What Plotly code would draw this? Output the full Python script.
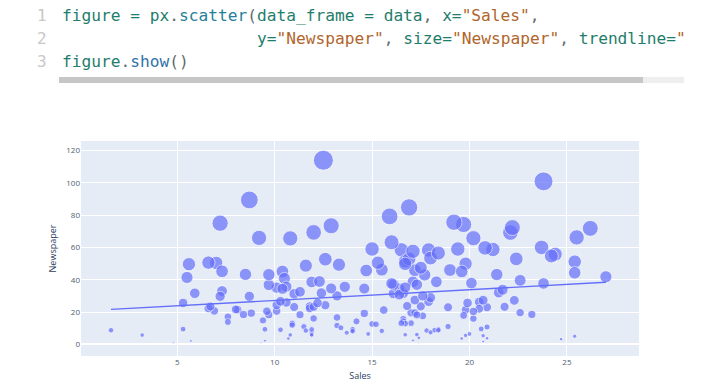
import numpy as np
import plotly.graph_objects as go

# Advertising data (Sales, Newspaper)
sales = [22.1, 10.4, 12, 16.5, 17.9, 7.2, 11.8, 13.2, 4.8, 15.6,
         12.6, 17.4, 9.2, 13.7, 19, 22.4, 12.5, 24.4, 11.3, 14.6,
         18, 17.5, 5.6, 20.5, 9.7, 17, 15, 20.9, 18.9, 10.5,
         21.4, 11.9, 13.2, 17.4, 11.9, 17.8, 25.4, 14.7, 10.1, 21.5,
         16.6, 17.1, 20.7, 17.9, 8.5, 16.1, 10.6, 23.2, 19.8, 9.7,
         16.4, 10.7, 22.6, 21.2, 20.2, 23.7, 5.5, 13.2, 23.8, 18.4,
         8.1, 24.2, 20.7, 14, 18, 9.3, 9.5, 13.4, 18.9, 22.3,
         18.3, 12.4, 8.8, 11, 17, 8.7, 6.9, 14.2, 5.3, 11,
         11.8, 17.3, 11.3, 13.6, 21.7, 20.2, 12, 16, 12.9, 16.7,
         14, 7.3, 19.4, 22.2, 11.5, 16.9, 16.7, 20.5, 25.4, 17.2,
         16.7, 23.8, 19.8, 19.7, 20.7, 15, 7.2, 12, 5.3, 19.8,
         18.4, 21.8, 17.1, 20.9, 14.6, 12.6, 12.2, 9.4, 15.9, 6.6,
         15.5, 7, 16.6, 15.2, 19.7, 10.6, 6.6, 11.9, 24.7, 9.7,
         1.6, 17.7, 5.7, 19.6, 10.8, 11.6, 9.5, 20.8, 9.6, 20.7,
         10.9, 19.2, 20.1, 10.4, 12.3, 10.3, 18.2, 25.4, 10.9, 10.1,
         16.1, 11.6, 16.6, 16, 20.6, 3.2, 15.3, 10.1, 7.3, 12.9,
         16.4, 13.3, 19.9, 18, 11.9, 16.9, 8, 17.2, 17.1, 20,
         8.4, 17.5, 7.6, 16.7, 16.5, 27, 20.2, 16.7, 16.8, 17.6,
         15.5, 17.2, 8.7, 26.2, 17.6, 22.6, 10.3, 17.3, 20.9, 6.7,
         10.8, 11.9, 5.9, 19.6, 17.3, 7.6, 14, 14.8, 25.5, 18.4]

newspaper = [69.2, 45.1, 69.3, 58.5, 58.4, 75, 23.5, 11.6, 1, 21.2,
             24.2, 4, 65.9, 7.2, 46, 52.9, 114, 55.8, 18.3, 19.1,
             53.4, 23.5, 49.6, 26.2, 18.3, 19.5, 12.6, 22.9, 22.9, 40.8,
             43.2, 38.6, 30, 0.3, 7.4, 8.5, 5, 45.7, 35.1, 32,
             31.6, 38.7, 1.8, 26.4, 43.3, 31.5, 35.7, 18.5, 49.9, 36.8,
             34.6, 3.6, 39.6, 58.7, 15.9, 60, 41.4, 16.6, 37.7, 9.3,
             21.4, 54.7, 27.3, 8.4, 28.9, 0.9, 2.2, 10.2, 11, 27.2,
             38.7, 31.7, 19.3, 31.3, 13.1, 89.4, 20.7, 14.2, 9.4, 23.1,
             22.3, 36.9, 32.5, 35.6, 33.8, 65.7, 16, 63.2, 73.4, 51.4,
             9.3, 33, 59, 72.3, 10.9, 52.9, 5.9, 22, 51.2, 45.9,
             49.8, 100.9, 21.4, 17.9, 5.3, 59, 29.7, 23.2, 25.6, 5.5,
             56.5, 23.2, 2.4, 10.7, 34.5, 52.7, 25.6, 14.8, 79.2, 22.3,
             46.2, 50.4, 15.6, 12.4, 74.2, 25.9, 50.6, 9.2, 3.2, 43.1,
             8.7, 43, 2.1, 45.1, 65.6, 8.5, 9.3, 59.7, 20.5, 1.7,
             12.9, 75.6, 37.9, 34.4, 38.9, 9, 8.7, 44.3, 11.9, 20.6,
             37, 48.7, 14.2, 37.7, 9.5, 5.7, 50.5, 24.3, 45.2, 34.6,
             30.7, 49.3, 25.6, 7.4, 5.4, 84.8, 21.6, 19.4, 57.6, 6.4,
             18.4, 47.4, 17, 12.8, 13.1, 41.8, 20.3, 35.2, 23.7, 17.6,
             8.3, 27.4, 29.7, 71.8, 30, 19.6, 26.6, 18.2, 3.7, 23.4,
             5.8, 6, 31.6, 3.6, 6, 13.8, 8.1, 6.4, 66.2, 8.7]

x_ticks = [5, 10, 15, 20, 25]
y_ticks = [0, 20, 40, 60, 80, 100, 120]

# code listing shown above the chart
TEAL = "#1f7d6c"
BLUE = "#2f72aa"
BROWN = "#b0652c"
GRAY = "#5f6b6b"
code_lines = [
    ("1", 60, f'<span style="color:{TEAL}">figure = px</span><span style="color:{GRAY}">.</span>'
          f'<span style="color:#25809a">scatter</span><span style="color:{GRAY}">(</span>'
          f'<span style="color:{TEAL}">data_frame = data</span><span style="color:{GRAY}">,</span> '
          f'<span style="color:{TEAL}">x=</span><span style="color:{BROWN}">"Sales"</span>'
          f'<span style="color:{GRAY}">,</span>'),
    ("2", 255, f'<span style="color:{TEAL}">y=</span><span style="color:{BROWN}">"Newspaper"</span>'
           f'<span style="color:{GRAY}">,</span> <span style="color:{TEAL}">size=</span>'
           f'<span style="color:{BROWN}">"Newspaper"</span><span style="color:{GRAY}">,</span> '
           f'<span style="color:{TEAL}">trendline=</span><span style="color:{BROWN}">"</span>'),
    ("3", 60, f'<span style="color:{TEAL}">figure</span><span style="color:{GRAY}">.</span>'
          f'<span style="color:{BLUE}">show</span><span style="color:{GRAY}">()</span>'),
]
line_y = [15.5, 38.5, 61.5]

W, H = 720, 385
L, R, T, B = 81, 81, 141, 29
pw, ph = W - L - R, H - T - B


def px2paper(px, py):
    return (px - L) / pw, (H - B - py) / ph


sx = np.array(sales, dtype=float)
ny = np.array(newspaper, dtype=float)
slope, intercept = np.polyfit(sx, ny, 1)
xs = np.sort(sx)
trend = slope * xs + intercept

fig = go.Figure()
fig.add_trace(go.Scatter(
    x=sales, y=newspaper, mode="markers",
    marker=dict(color="#636efa", size=newspaper, sizemode="area",
                sizeref=2.0 * max(newspaper) / (20 ** 2), sizemin=0.5,
                opacity=0.7, line=dict(color="white", width=0.8)),
    showlegend=False,
))
fig.add_trace(go.Scatter(
    x=xs, y=trend, mode="lines",
    line=dict(color="#636efa", width=1.3),
    showlegend=False,
))

annotations = []
for (num, xstart, txt), yy in zip(code_lines, line_y):
    ax, ay = px2paper(49, yy)
    annotations.append(dict(xref="paper", yref="paper", x=ax, y=ay, text=num,
                            showarrow=False, xanchor="right", yanchor="middle",
                            font=dict(family="DejaVu Sans Mono", size=16, color="#c8c8c8")))
    bx, by = px2paper(xstart, yy)
    annotations.append(dict(xref="paper", yref="paper", x=bx, y=by, text=txt,
                            showarrow=False, xanchor="left", yanchor="middle",
                            font=dict(family="DejaVu Sans Mono", size=16.2, color=TEAL)))

# scrollbar under the code
x0, y0 = px2paper(59, 83)
x1, y1 = px2paper(684, 77)
x2, _ = px2paper(643, 80)
shapes = [
    dict(type="rect", xref="paper", yref="paper", x0=x0, x1=x1, y0=y0, y1=y1,
         fillcolor="#eeeeee", line=dict(width=0), layer="above"),
    dict(type="rect", xref="paper", yref="paper", x0=x0, x1=x2, y0=y0, y1=y1,
         fillcolor="#c6c6c6", line=dict(width=0), layer="above"),
]

fig.update_layout(
    width=W, height=H,
    margin=dict(l=L, r=R, t=T, b=B, pad=0, autoexpand=False),
    paper_bgcolor="white", plot_bgcolor="#e5ecf6",
    font=dict(family="Open Sans", color="#2a3f5f", size=8),
    annotations=annotations, shapes=shapes,
    xaxis=dict(range=[0.06, 28.7], tickvals=x_ticks, gridcolor="white",
               zeroline=False, showline=False, ticks="", automargin=False,
               tickfont=dict(size=8, color="#506070"),
               title=dict(text="Sales", font=dict(size=9, color="#2a3f5f"), standoff=6)),
    yaxis=dict(range=[-7.25, 125.9], tickvals=y_ticks, gridcolor="white",
               zeroline=True, zerolinecolor="white", zerolinewidth=1.5,
               showline=False, ticks="", automargin=False,
               tickfont=dict(size=8, color="#506070"),
               title=dict(text="Newspaper", font=dict(size=9, color="#2a3f5f"), standoff=8)),
)

fig.write_html("out.html")
